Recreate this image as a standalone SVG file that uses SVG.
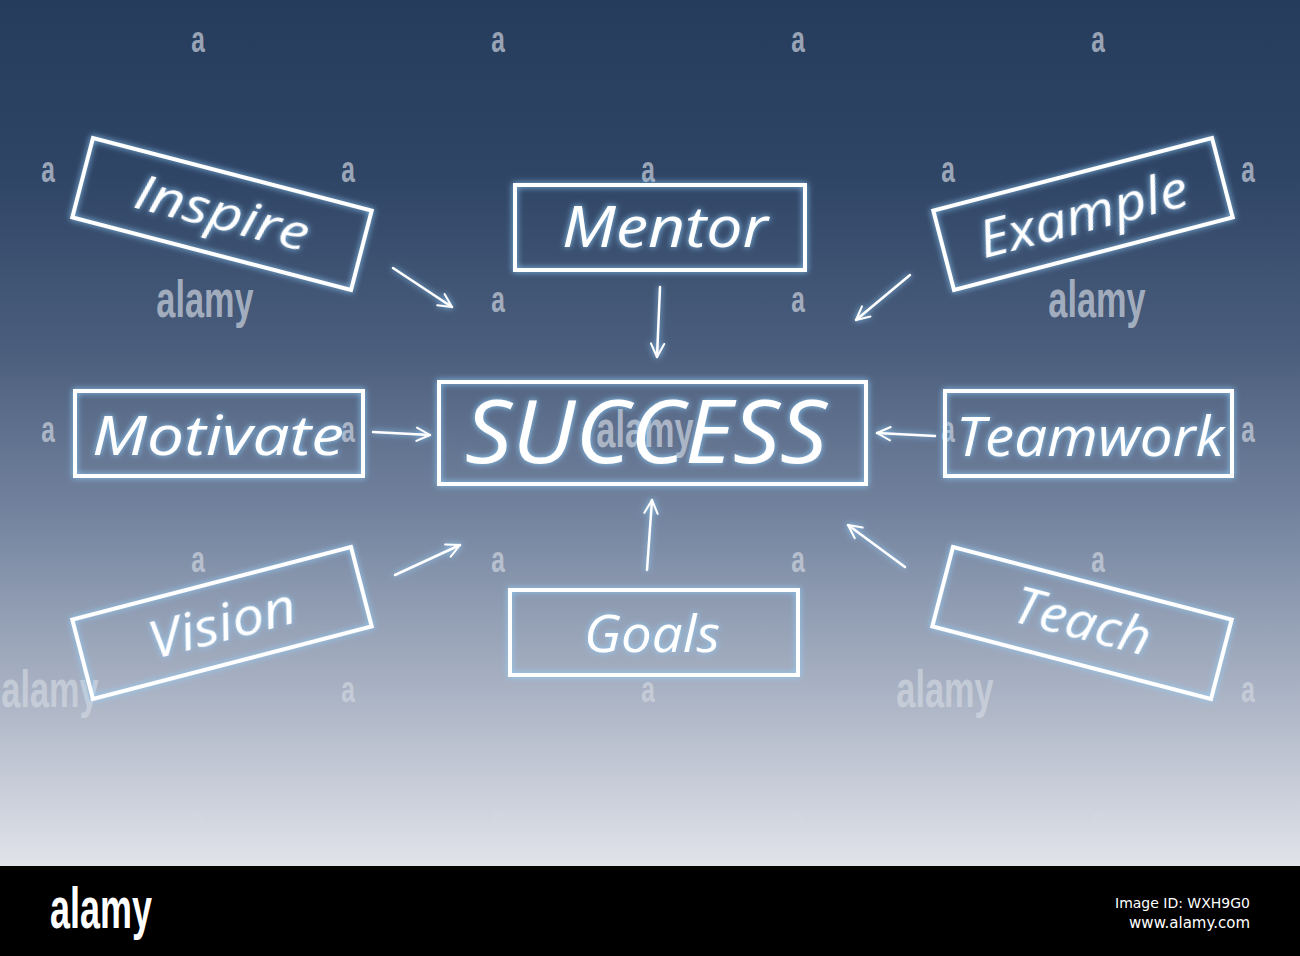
<svg xmlns="http://www.w3.org/2000/svg" width="1300" height="956" viewBox="0 0 1300 956">
<defs>
<linearGradient id="bg" x1="0" y1="0" x2="0" y2="1">
<stop offset="0" stop-color="#263c5d"/>
<stop offset="0.2" stop-color="#2f4566"/>
<stop offset="0.4" stop-color="#4a5d7c"/>
<stop offset="0.6" stop-color="#7585a0"/>
<stop offset="0.8" stop-color="#aab3c4"/>
<stop offset="1" stop-color="#e1e3ea"/>
</linearGradient>
<filter id="glow" x="-20%" y="-30%" width="140%" height="160%">
<feGaussianBlur in="SourceAlpha" stdDeviation="3" result="b"/>
<feFlood flood-color="#8fd2ff" flood-opacity="0.95"/>
<feComposite in2="b" operator="in" result="g"/>
<feMerge><feMergeNode in="g"/><feMergeNode in="SourceGraphic"/></feMerge>
</filter>
<marker id="ah" viewBox="0 0 12 12" refX="11" refY="6" markerWidth="16" markerHeight="16" markerUnits="userSpaceOnUse" orient="auto">
<path d="M1,1 L11,6 L1,11" fill="none" stroke="#ffffff" stroke-width="1.5" stroke-linecap="round" stroke-linejoin="round"/>
</marker>
</defs>
<style>
.box{fill:none;stroke:#ffffff;stroke-width:4}
.lbl{font-family:"Open Sans","DejaVu Sans",sans-serif;font-style:italic;fill:#ffffff;text-anchor:middle}
.arr{fill:none;stroke:#ffffff;stroke-width:2.5;stroke-linecap:round;marker-end:url(#ah)}
.wm{font-family:"Liberation Sans",Arial,sans-serif;font-weight:bold;fill:#d3d9e2;fill-opacity:0.68;text-anchor:middle}
.foot{font-family:"DejaVu Sans",sans-serif;fill:#ffffff}
</style>
<rect x="0" y="0" width="1300" height="866" fill="url(#bg)"/>

<g id="watermarks">
<g class="wm" font-size="36">
<text transform="translate(198,52) scale(0.68,1)">a</text>
<text transform="translate(498,52) scale(0.68,1)">a</text>
<text transform="translate(798,52) scale(0.68,1)">a</text>
<text transform="translate(1098,52) scale(0.68,1)">a</text>
<text transform="translate(48,182) scale(0.68,1)">a</text>
<text transform="translate(348,182) scale(0.68,1)">a</text>
<text transform="translate(648,182) scale(0.68,1)">a</text>
<text transform="translate(948,182) scale(0.68,1)">a</text>
<text transform="translate(1248,182) scale(0.68,1)">a</text>
<text transform="translate(498,312) scale(0.68,1)">a</text>
<text transform="translate(798,312) scale(0.68,1)">a</text>
<text transform="translate(48,442) scale(0.68,1)">a</text>
<text transform="translate(348,442) scale(0.68,1)">a</text>
<text transform="translate(948,442) scale(0.68,1)">a</text>
<text transform="translate(1248,442) scale(0.68,1)">a</text>
<text transform="translate(198,572) scale(0.68,1)">a</text>
<text transform="translate(498,572) scale(0.68,1)">a</text>
<text transform="translate(798,572) scale(0.68,1)">a</text>
<text transform="translate(1098,572) scale(0.68,1)">a</text>
<text transform="translate(348,702) scale(0.68,1)">a</text>
<text transform="translate(648,702) scale(0.68,1)">a</text>
<text transform="translate(1248,702) scale(0.68,1)">a</text>
<text transform="translate(198,832) scale(0.68,1)">a</text>
<text transform="translate(498,832) scale(0.68,1)">a</text>
<text transform="translate(798,832) scale(0.68,1)">a</text>
<text transform="translate(1098,832) scale(0.68,1)">a</text>
</g>
<g class="wm" font-size="52">
<text transform="translate(205,317) scale(0.66,1)">alamy</text>
<text transform="translate(1097,317) scale(0.66,1)">alamy</text>
<text transform="translate(645,447) scale(0.66,1)">alamy</text>
<text transform="translate(50,707) scale(0.66,1)">alamy</text>
<text transform="translate(945,707) scale(0.66,1)">alamy</text>
</g>
</g>

<g id="connectors" filter="url(#glow)">
<line class="arr" x1="393" y1="268" x2="452" y2="307"/>
<line class="arr" x1="660" y1="287" x2="657" y2="357"/>
<line class="arr" x1="910" y1="275" x2="856" y2="320"/>
<line class="arr" x1="373" y1="432" x2="430" y2="435"/>
<line class="arr" x1="935" y1="436" x2="877" y2="433"/>
<line class="arr" x1="395" y1="575" x2="460" y2="545"/>
<line class="arr" x1="647" y1="570" x2="652" y2="500"/>
<line class="arr" x1="905" y1="567" x2="848" y2="525"/>
</g>

<g id="success" filter="url(#glow)">
<rect class="box" x="439" y="382" width="427" height="102"/>
<text class="lbl" x="646" y="463" font-size="88" textLength="362" lengthAdjust="spacingAndGlyphs">SUCCESS</text>
</g>

<g id="inspire" filter="url(#glow)" transform="translate(222,214) rotate(14.6)">
<rect class="box" x="-144" y="-41" width="288" height="82"/>
<text class="lbl" x="0" y="16" font-size="50" textLength="178" lengthAdjust="spacingAndGlyphs">Inspire</text>
</g>

<g id="mentor" filter="url(#glow)">
<rect class="box" x="515" y="185" width="290" height="85"/>
<text class="lbl" x="665" y="247" font-size="56" textLength="206" lengthAdjust="spacingAndGlyphs">Mentor</text>
</g>

<g id="example" filter="url(#glow)" transform="translate(1083,214) rotate(-14.6)">
<rect class="box" x="-144" y="-41" width="288" height="82"/>
<text class="lbl" x="0" y="18" font-size="52" textLength="214" lengthAdjust="spacingAndGlyphs">Example</text>
</g>

<g id="motivate" filter="url(#glow)">
<rect class="box" x="75" y="391" width="288" height="85"/>
<text class="lbl" x="218" y="455" font-size="54" textLength="252" lengthAdjust="spacingAndGlyphs">Motivate</text>
</g>

<g id="teamwork" filter="url(#glow)">
<rect class="box" x="945" y="391" width="287" height="85"/>
<text class="lbl" x="1090" y="456" font-size="54" textLength="268" lengthAdjust="spacingAndGlyphs">Teamwork</text>
</g>

<g id="vision" filter="url(#glow)" transform="translate(222,623) rotate(-14.6)">
<rect class="box" x="-144" y="-41" width="288" height="82"/>
<text class="lbl" x="0" y="18" font-size="52" textLength="150" lengthAdjust="spacingAndGlyphs">Vision</text>
</g>

<g id="goals" filter="url(#glow)">
<rect class="box" x="510" y="590" width="288" height="85"/>
<text class="lbl" x="652" y="652" font-size="52" textLength="136" lengthAdjust="spacingAndGlyphs">Goals</text>
</g>

<g id="teach" filter="url(#glow)" transform="translate(1082,623) rotate(14.6)">
<rect class="box" x="-144" y="-41" width="288" height="82"/>
<text class="lbl" x="0" y="16" font-size="52" textLength="140" lengthAdjust="spacingAndGlyphs">Teach</text>
</g>

<g id="footer">
<rect x="0" y="866" width="1300" height="90" fill="#000000"/>
<text font-family="Liberation Sans,Arial,sans-serif" font-weight="bold" font-size="58" fill="#ffffff" transform="translate(50,928) scale(0.62,1)">alamy</text>
<text class="foot" x="1250" y="908" font-size="14" text-anchor="end">Image ID: WXH9G0</text>
<text class="foot" x="1250" y="928" font-size="15" text-anchor="end">www.alamy.com</text>
</g>
</svg>
